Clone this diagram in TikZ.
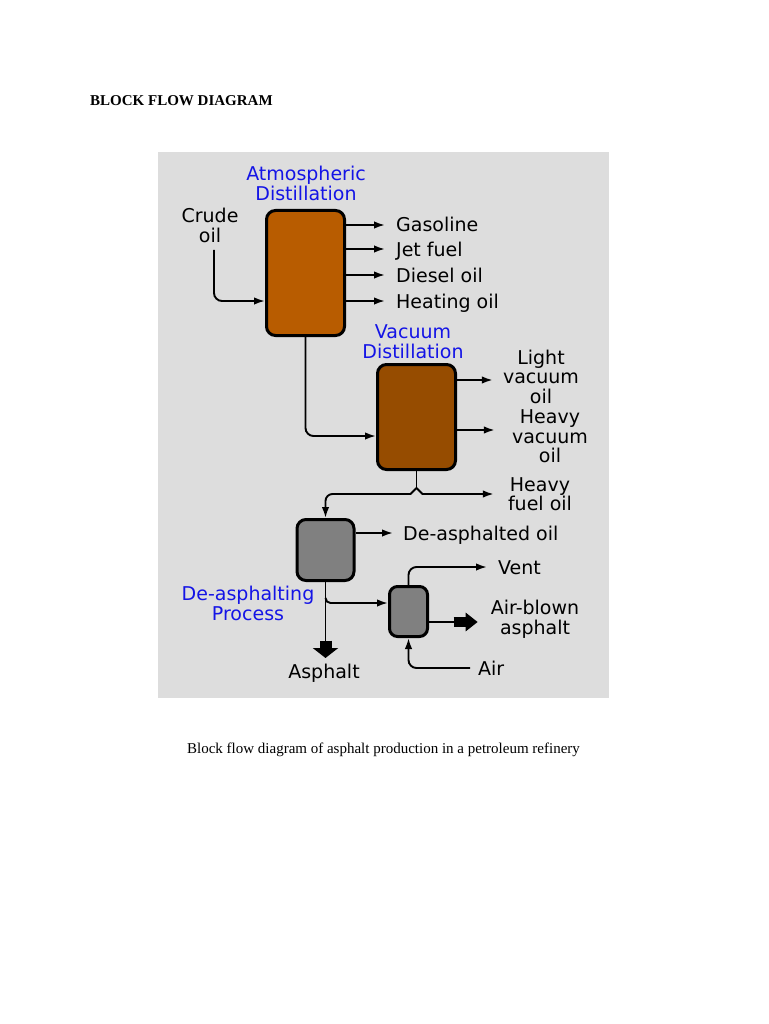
\documentclass[tikz,border=0pt]{standalone}
\usepackage{fontspec}
\setmainfont{Liberation Serif}
\newfontfamily\dgfont{DejaVu Sans}
\usetikzlibrary{arrows.meta}
\definecolor{panelc}{RGB}{221,221,221}
\definecolor{atmc}{RGB}{184,92,0}
\definecolor{vacc}{RGB}{150,76,0}
\definecolor{dgray}{RGB}{128,128,128}
\definecolor{dgblue}{RGB}{20,20,230}
\begin{document}
\begin{tikzpicture}[x=1pt,y=-1pt,
  col/.style={draw=black, line width=3pt, rounded corners=9pt, inner sep=0pt},
  lbl/.style={font=\dgfont\fontsize{19}{19.5}\selectfont, inner sep=0pt, align=center},
  bluelbl/.style={lbl, text=dgblue},
  sl/.style={lbl, anchor=west, text height=14pt, text depth=0pt},
  flow/.style={line width=1.9pt, -{Latex[length=11pt,width=7.5pt]}},
  pipe/.style={line width=1.9pt}]
\useasboundingbox (0,0) rectangle (768,1024);
\fill[white] (0,0) rectangle (768,1024);
\fill[panelc] (158,152) rectangle (609,698);

\node[anchor=base west, font=\bfseries\fontsize{15}{18}\selectfont, inner sep=0pt] (title) at (90,106) {BLOCK FLOW DIAGRAM};
\node[anchor=base, font=\fontsize{15}{18}\selectfont, inner sep=0pt] (cap) at (383.5,753) {Block flow diagram of asphalt production in a petroleum refinery};

% columns
\node[col, fill=atmc, minimum width=78pt, minimum height=125pt] (atm) at (305.5,273) {};
\node[col, fill=vacc, minimum width=78pt, minimum height=105pt] (vac) at (416.5,417) {};
\node[col, fill=dgray, minimum width=57pt, minimum height=61pt] (dea) at (325.5,550) {};
\node[col, fill=dgray, minimum width=38pt, minimum height=50pt, rounded corners=8pt] (blow) at (408.5,611.5) {};

% labels
\node[bluelbl] (atmlbl) at (306,183.5) {Atmospheric\\Distillation};
\node[lbl] (crude) at (210,225.5) {Crude\\oil};
\node[sl] (gas) at (396,225) {Gasoline};
\node[sl] (jet) at (396,249) {Jet fuel};
\node[sl] (dsl) at (396,275) {Diesel oil};
\node[sl] (hto) at (396,301) {Heating oil};
\node[bluelbl] (vaclbl) at (413,341.5) {Vacuum\\Distillation};
\node[lbl] (lvo) at (541,376.5) {Light\\vacuum\\oil};
\node[lbl] (hvo) at (550,436.5) {Heavy\\vacuum\\oil};
\node[lbl] (hfo) at (540,494) {Heavy\\fuel oil};
\node[sl] (dao) at (403,533) {De-asphalted oil};
\node[bluelbl] (dealbl) at (248,603.5) {De-asphalting\\Process};
\node[sl] (vent) at (498,567) {Vent};
\node[lbl] (abl) at (535,619.5) {Air-blown\\asphalt};
\node[lbl] (asp) at (324,673) {Asphalt};
\node[sl] (air) at (478,668) {Air};

% connectors
\draw[flow, rounded corners=8pt] ([xshift=4pt,yshift=-7pt]crude.south) |- ([yshift=-28pt]atm.west);
\foreach \t in {gas,jet,dsl,hto} \draw[flow] (atm.east |- \t.west) -- ([xshift=-11pt]\t.west);
\draw[flow, rounded corners=8pt] (atm.south) |- ([yshift=-19pt]vac.west);
\draw[flow] ([yshift=37pt]vac.east) coordinate (v1) -- ([xshift=-10pt]lvo.west |- v1);
\draw[flow] ([yshift=-13pt]vac.east) coordinate (v2) -- ([xshift=-17pt]hvo.west |- v2);
\draw[pipe] (vac.south) -- ++(0,17) coordinate (sp);
\draw[flow] (sp) -- ++(-6,6) [rounded corners=7pt] -| (dea.north);
\draw[flow] (sp) -- ++(6,6) coordinate (sr) -- ([xshift=-14pt]hfo.west |- sr);
\draw[flow] (dea.east |- dao.west) -- ([xshift=-10pt]dao.west);
\draw[pipe] (dea.south) -- ++(0,59) coordinate (ah);
\draw[line width=12pt, -{Triangle[length=10pt,width=25pt]}] ([yshift=0.5pt]ah) -- ([yshift=-17pt]ah);
\draw[flow, rounded corners=5pt] ([yshift=-16pt]dea.south) |- ([yshift=8.5pt]blow.west);
\draw[flow, rounded corners=8pt] (blow.north) |- ([xshift=-11pt]vent.west);
\draw[pipe] ([yshift=-10.5pt]blow.east) coordinate (b1) -- ([xshift=-37pt]abl.west |- b1) coordinate (b2);
\draw[line width=10pt, -{Triangle[length=12pt,width=18pt]}] (b2) -- ([xshift=-13pt]abl.west |- b1);
\draw[flow, rounded corners=8pt] ([xshift=-8pt]air.west) -| (blow.south);
\end{tikzpicture}
\end{document}
